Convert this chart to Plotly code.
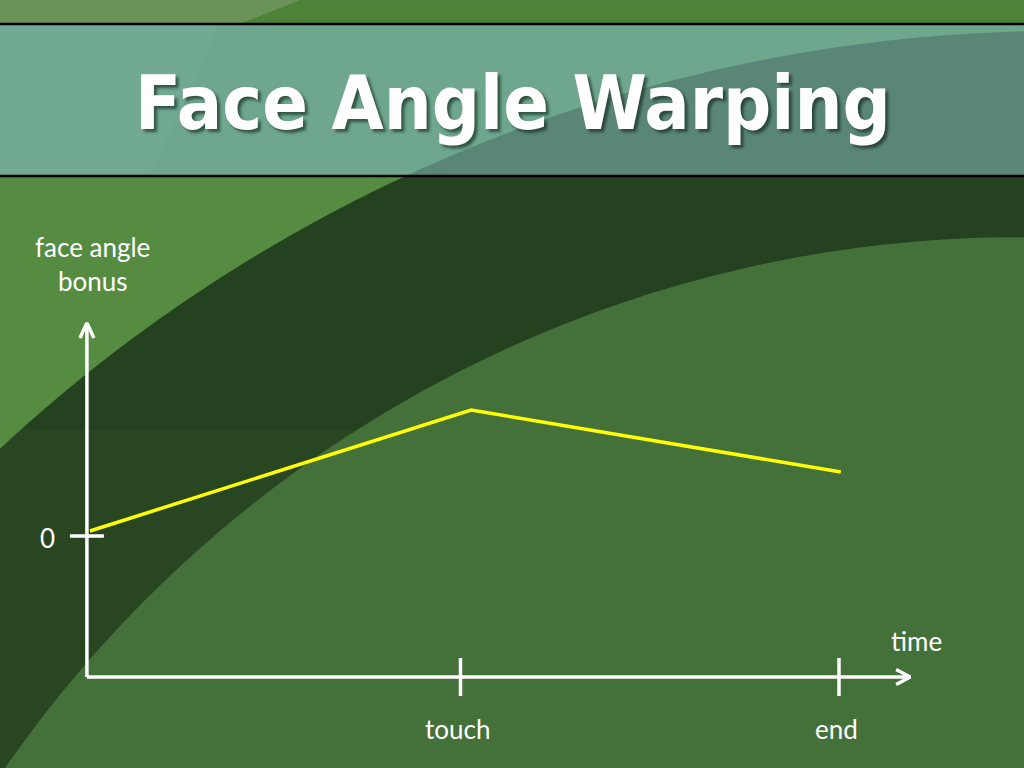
import numpy as np
import plotly.graph_objects as go

# ---- data ----
time_x = [0.021, 1.028, 2.005]       # start, just after touch, end
bonus_y = [0.05, 1.26, 0.64]         # face angle bonus
tick_vals = [1, 2]
tick_text = ["touch", "end"]
zero_label = "0"
x_axis_label = "time"
y_axis_label = "face angle<br>bonus"
title_text = "Face Angle Warping"

# axis extents (data units)
y_axis_at = 0.013
x_axis_end = 2.188
y_axis_top = 2.13
y_axis_bottom = -1.41

W, H = 1024, 768
PX_PER_X = 378.5
PX_PER_Y = 100.0
X0_PX, Y0_PX = 82, 536
x_range = [-X0_PX / PX_PER_X, (W - X0_PX) / PX_PER_X]
y_range = [(Y0_PX - H) / PX_PER_Y, Y0_PX / PX_PER_Y]

def P(px, py):
    return px / W, 1 - py / H

def fit_circle(pts):
    pts = np.asarray(pts, float)
    A = np.c_[2 * pts[:, 0], 2 * pts[:, 1], np.ones(len(pts))]
    b = (pts ** 2).sum(1)
    cx, cy, c = np.linalg.lstsq(A, b, rcond=None)[0]
    r = np.sqrt(c + cx ** 2 + cy ** 2)
    return cx, cy, r

def arc_y(circle, xs):
    cx, cy, r = circle
    return cy - np.sqrt(np.maximum(r ** 2 - (xs - cx) ** 2, 0))

outer = fit_circle([(0, 450), (207, 285), (393, 176), (536, 130), (1024, 30)])
inner = fit_circle([(0, 770), (83, 673), (177, 570), (300, 467), (500, 353), (700, 277), (1023, 238)])
xs = np.linspace(0, W, 200)
oy = arc_y(outer, xs)
iy = arc_y(inner, xs)

def path(points):
    s = ""
    for i, (px, py) in enumerate(points):
        x, y = P(px, py)
        s += ("M" if i == 0 else "L") + f"{x:.5f},{y:.5f} "
    return s + "Z"

shapes = []
def add(points, color):
    shapes.append(dict(type="path", xref="paper", yref="paper", path=path(points),
                       fillcolor=color, line=dict(width=0), layer="below"))

# background
add([(0, 0), (W, 0), (W, H), (0, H)], "#568b42")
add(list(zip(xs, oy)) + [(W, H), (0, H)], "#24421f")
add(list(zip(xs, np.maximum(oy, 430))) + [(W, H), (0, H)], "rgba(60,90,50,0.2)")
add(list(zip(xs, iy)) + [(W, H), (0, H)], "#44703a")
# top strip
add([(0, 0), (W, 0), (W, 24), (0, 24)], "#4f8239")
add([(0, 0), (300, 0), (240, 24), (0, 24)], "rgba(200,210,190,0.22)")
# title band
add([(0, 24), (W, 24), (W, 176), (0, 176)], "#6ea78e")
add([(0, 24), (220, 24), (150, 176), (0, 176)], "rgba(150,190,190,0.10)")
band = [(x, y) for x, y in zip(xs, oy) if y <= 176]
add([(band[0][0], 176)] + band + [(W, 24), (W, 176)], "#5a8678")
for yy in (24, 176):
    x1, y1 = P(0, yy); x2, y2 = P(W, yy)
    shapes.append(dict(type="line", xref="paper", yref="paper", x0=x1, y0=y1, x1=x2, y1=y2,
                       line=dict(color="#000000", width=2.5), layer="below"))

fig = go.Figure()
AX = dict(color="#ffffff", width=3.5)
def seg(xv, yv, line=AX):
    fig.add_trace(go.Scatter(x=xv, y=yv, mode="lines", line=line, hoverinfo="skip", showlegend=False))

# axes
seg([y_axis_at, y_axis_at], [y_axis_bottom, y_axis_top])
seg([y_axis_at, x_axis_end], [y_axis_bottom, y_axis_bottom])
# arrowheads
ax_dx, ax_dy = 7 / PX_PER_X, 15 / PX_PER_Y
seg([y_axis_at - ax_dx, y_axis_at, y_axis_at + ax_dx], [y_axis_top - ax_dy, y_axis_top, y_axis_top - ax_dy])
bx_dx, bx_dy = 14 / PX_PER_X, 7.5 / PX_PER_Y
seg([x_axis_end - bx_dx, x_axis_end, x_axis_end - bx_dx],
    [y_axis_bottom + bx_dy, y_axis_bottom, y_axis_bottom - bx_dy])
# ticks
th = 19 / PX_PER_Y
for tv in tick_vals:
    seg([tv, tv], [y_axis_bottom - th, y_axis_bottom + th])
zh = 17 / PX_PER_X
seg([y_axis_at - zh, y_axis_at + zh], [0, 0])

# data line
fig.add_trace(go.Scatter(x=time_x, y=bonus_y, mode="lines",
                         line=dict(color="#ffff00", width=3.5), showlegend=False))

LBL = dict(family="Lato, Open Sans, sans-serif", size=26, color="#ffffff")
ann = []
for tv, tt in zip(tick_vals, tick_text):
    ann.append(dict(x=tv, y=y_axis_bottom, xref="x", yref="y", text=tt, showarrow=False,
                    font=LBL, xanchor="center", yanchor="middle", yshift=-52, xshift=-3))
ann.append(dict(x=y_axis_at, y=0, xref="x", yref="y", text=zero_label, showarrow=False,
                font=LBL, xanchor="center", yanchor="middle", xshift=-39, yshift=-2))
ann.append(dict(x=x_axis_end, y=y_axis_bottom, xref="x", yref="y", text=x_axis_label,
                showarrow=False, font=LBL, xanchor="center", yanchor="middle", xshift=6, yshift=36))
ann.append(dict(x=y_axis_at, y=y_axis_top, xref="x", yref="y", text=y_axis_label, showarrow=False,
                font=LBL, xanchor="center", yanchor="middle", xshift=6, yshift=59))
tx, ty = P(513, 103)
TF = "DejaVu Sans Condensed, Liberation Sans Narrow, Arial Narrow, sans-serif"
ann.append(dict(x=tx, y=ty, xref="paper", yref="paper", text=f"<b>{title_text}</b>", showarrow=False,
                xanchor="center", yanchor="middle",
                font=dict(family=TF, size=75, color="#ffffff",
                          shadow="3px 3px 3px rgba(10,30,20,0.6)")))

fig.update_layout(
    width=W, height=H, margin=dict(l=0, r=0, t=0, b=0),
    paper_bgcolor="#568b42", plot_bgcolor="rgba(0,0,0,0)",
    xaxis=dict(range=x_range, visible=False, fixedrange=True),
    yaxis=dict(range=y_range, visible=False, fixedrange=True),
    shapes=shapes, annotations=ann, showlegend=False,
)
fig.write_html("out.html", config={"displayModeBar": False},
               post_script="document.body.style.margin='0';document.body.style.overflow='hidden';")
